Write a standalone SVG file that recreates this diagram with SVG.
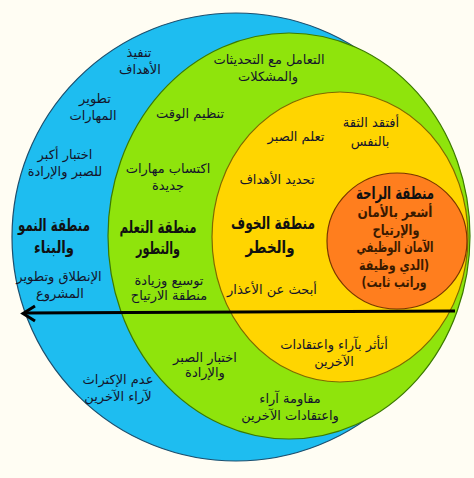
<svg xmlns="http://www.w3.org/2000/svg" width="474" height="478" viewBox="0 0 474 478">
<style>
.t{font-family:"DejaVu Sans",sans-serif;font-size:13px;fill:#14142a;text-anchor:middle;direction:rtl}
.b{font-family:"DejaVu Sans",sans-serif;font-size:17px;font-weight:bold;fill:#111;text-anchor:middle;direction:rtl}
.o{font-family:"DejaVu Sans",sans-serif;font-size:14px;font-weight:bold;fill:#3a1a00;text-anchor:middle;direction:rtl}
</style>
<rect width="474" height="478" fill="#FFFDF3"/>
<g id="zone-growth">
<ellipse cx="236" cy="237" rx="224" ry="224" fill="#1EBDF0" stroke="#1d4f6e" stroke-width="1.2"/>
<text class="t" x="139" y="57">تنفيذ</text>
<text class="t" x="140" y="74">الأهداف</text>
<text class="t" x="95" y="103">تطوير</text>
<text class="t" x="93" y="120">المهارات</text>
<text class="t" x="65" y="159">اختبار أكبر</text>
<text class="t" x="65" y="176">للصبر والإرادة</text>
<text class="b" x="54" y="231" textLength="72" lengthAdjust="spacingAndGlyphs">منطقة النمو</text>
<text class="b" x="54" y="253" textLength="40" lengthAdjust="spacingAndGlyphs">والبناء</text>
<text class="t" x="59" y="281">الإنطلاق وتطوير</text>
<text class="t" x="60" y="298">المشروع</text>
<text class="t" x="118" y="384">عدم الإكتراث</text>
<text class="t" x="118" y="401">لآراء الآخرين</text>
</g>
<g id="zone-learning">
<ellipse cx="289" cy="236" rx="181" ry="203" fill="#8FE40C" stroke="#3c7a00" stroke-width="1.2"/>
<text class="t" x="269" y="64">التعامل مع التحديثات</text>
<text class="t" x="268" y="81">والمشكلات</text>
<text class="t" x="190" y="118">تنظيم الوقت</text>
<text class="t" x="168" y="173">اكتساب مهارات</text>
<text class="t" x="168" y="190">جديدة</text>
<text class="b" x="158" y="233" textLength="77" lengthAdjust="spacingAndGlyphs">منطقة التعلم</text>
<text class="b" x="158" y="254" textLength="44" lengthAdjust="spacingAndGlyphs">والتطور</text>
<text class="t" x="169" y="285">توسيع وزيادة</text>
<text class="t" x="169" y="300">منطقة الارتياح</text>
<text class="t" x="205" y="362">اختبار الصبر</text>
<text class="t" x="205" y="377">والإرادة</text>
<text class="t" x="290" y="403">مقاومة آراء</text>
<text class="t" x="290" y="420">واعتقادات الآخرين</text>
</g>
<g id="zone-fear">
<ellipse cx="340" cy="237" rx="128" ry="145" fill="#FFD500" stroke="#7f6a00" stroke-width="1.2"/>
<text class="t" x="371" y="127">أفتقد الثقة</text>
<text class="t" x="370" y="146">بالنفس</text>
<text class="t" x="296" y="141">تعلم الصبر</text>
<text class="t" x="277" y="184">تحديد الأهداف</text>
<text class="b" x="273" y="229" textLength="84" lengthAdjust="spacingAndGlyphs">منطقة الخوف</text>
<text class="b" x="270" y="253" textLength="49" lengthAdjust="spacingAndGlyphs">والخطر</text>
<text class="t" x="272" y="294">أبحث عن الأعذار</text>
<text class="t" x="334" y="349">أتأثر بآراء واعتقادات</text>
<text class="t" x="334" y="366">الآخرين</text>
</g>
<g id="zone-comfort">
<ellipse cx="397" cy="241" rx="70" ry="68" fill="#FF7E1E" stroke="#7a3500" stroke-width="1.2"/>
<text class="b" x="395" y="199" textLength="78" lengthAdjust="spacingAndGlyphs">منطقة الراحة</text>
<text class="o" x="395" y="217" textLength="75" lengthAdjust="spacingAndGlyphs">أشعر بالأمان</text>
<text class="o" x="396" y="235" textLength="47" lengthAdjust="spacingAndGlyphs">والإرتياح</text>
<text class="o" x="395" y="252" textLength="77" lengthAdjust="spacingAndGlyphs">الآمان الوظيفي</text>
<text class="o" x="394" y="270" textLength="70" lengthAdjust="spacingAndGlyphs">(الدي وظيفة</text>
<text class="o" x="394" y="287" textLength="65" lengthAdjust="spacingAndGlyphs">وراتب ثابت)</text>
</g>
<g id="connectors">
<path d="M24 313 L455 311" stroke="#000" stroke-width="3" fill="none"/>
<path d="M35 306 L23 313.5 L35 321" stroke="#000" stroke-width="3" fill="none" stroke-linejoin="miter"/>
</g>
</svg>
